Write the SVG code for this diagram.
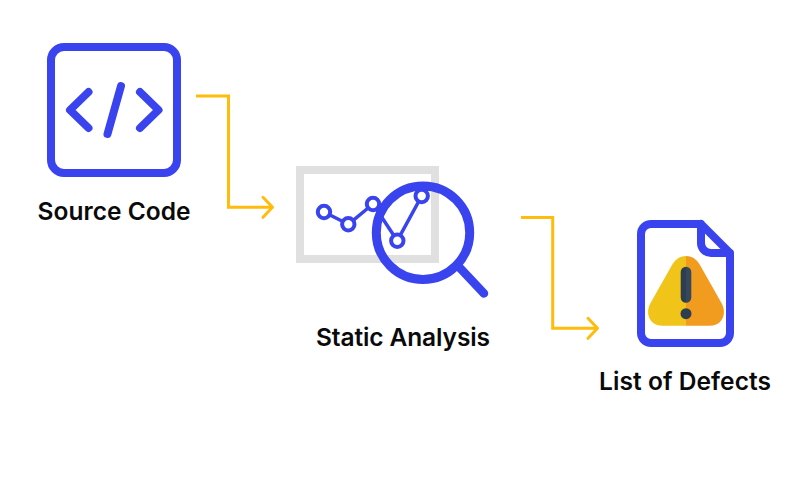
<svg xmlns="http://www.w3.org/2000/svg" width="800" height="480" viewBox="0 0 800 480">
<style>
.ln{fill:none;stroke:#3A44EE;stroke-linecap:round;stroke-linejoin:round}
.cn{fill:none;stroke:#FFBC0D;stroke-width:3;stroke-linejoin:miter}
.lb{font-family:Inter,"Open Sans",sans-serif;font-weight:600;font-size:24.500px;fill:#0a0a0a}
.pt{fill:#fff;stroke:#3A44EE;stroke-width:4}
</style>
<defs>
<marker id="ah" markerUnits="userSpaceOnUse" markerWidth="16" markerHeight="26" refX="12" refY="13" orient="auto" viewBox="0 0 16 26">
<path d="M3 3L12.500 13L3 23" fill="none" stroke="#FFBC0D" stroke-width="3" stroke-linecap="round" stroke-linejoin="round"/>
</marker>
</defs>
<rect width="800" height="480" fill="#fff"/>
<g id="connectors">
<path class="cn" marker-end="url(#ah)" d="M196 96H228.500V207.300H272"/>
<path class="cn" marker-end="url(#ah)" d="M521 217.400H552.700V328.300H597"/>
</g>
<g id="source-code">
<rect class="ln" x="51" y="47" width="126" height="126" rx="13" stroke-width="8"/>
<path class="ln" stroke-width="8" d="M88.500 92L70 110L88.500 128M140 92L158.500 110L140 128M121 86L107.500 134"/>
<text class="lb" x="114" y="220" text-anchor="middle" textLength="153" lengthAdjust="spacing">Source Code</text>
</g>
<g id="static-analysis">
<rect x="300" y="170" width="135" height="89" fill="none" stroke="#E0E0E0" stroke-width="8"/>
<path class="ln" stroke-width="3.500" d="M324 212L348.300 224.300L373 204L397.300 240.700L421.700 196"/>
<circle class="pt" cx="324" cy="212" r="6.200"/>
<circle class="pt" cx="348.300" cy="224.300" r="6.200"/>
<circle class="pt" cx="373" cy="204" r="6.200"/>
<circle class="pt" cx="397.300" cy="240.700" r="6.200"/>
<circle class="pt" cx="421.700" cy="196" r="6.200"/>
<circle class="ln" cx="423" cy="232.700" r="46.700" stroke-width="9"/>
<path class="ln" stroke-width="8.500" d="M460 268L484 293.500"/>
<text class="lb" x="403" y="346" text-anchor="middle" textLength="174" lengthAdjust="spacing">Static Analysis</text>
</g>
<g id="list-of-defects">
<path class="ln" stroke-width="8" d="M701 224H651A10 10 0 0 0 641 234V333A10 10 0 0 0 651 343H720A10 10 0 0 0 730 333V253L701 224V243A10 10 0 0 0 711 253H730"/>
<path d="M686 256C679 256 675 260 672 265L650 304C645 314 650 325.700 662 325.700H686Z" fill="#F0C419"/>
<path d="M686 256C693 256 697 260 700 265L722 304C727 314 722 325.700 710 325.700H686Z" fill="#F29C1F"/>
<path d="M686 266.700A5.300 5.300 0 0 0 680.700 272V297.500A5.300 5.300 0 0 0 686 302.700Z" fill="#2C3E50"/>
<path d="M686 266.700A5.300 5.300 0 0 1 691.300 272V297.500A5.300 5.300 0 0 1 686 302.700Z" fill="#35495E"/>
<circle cx="686" cy="313.700" r="5.500" fill="#2C3E50"/>
<text class="lb" x="685" y="390" text-anchor="middle" textLength="172" lengthAdjust="spacing">List of Defects</text>
</g>
</svg>
